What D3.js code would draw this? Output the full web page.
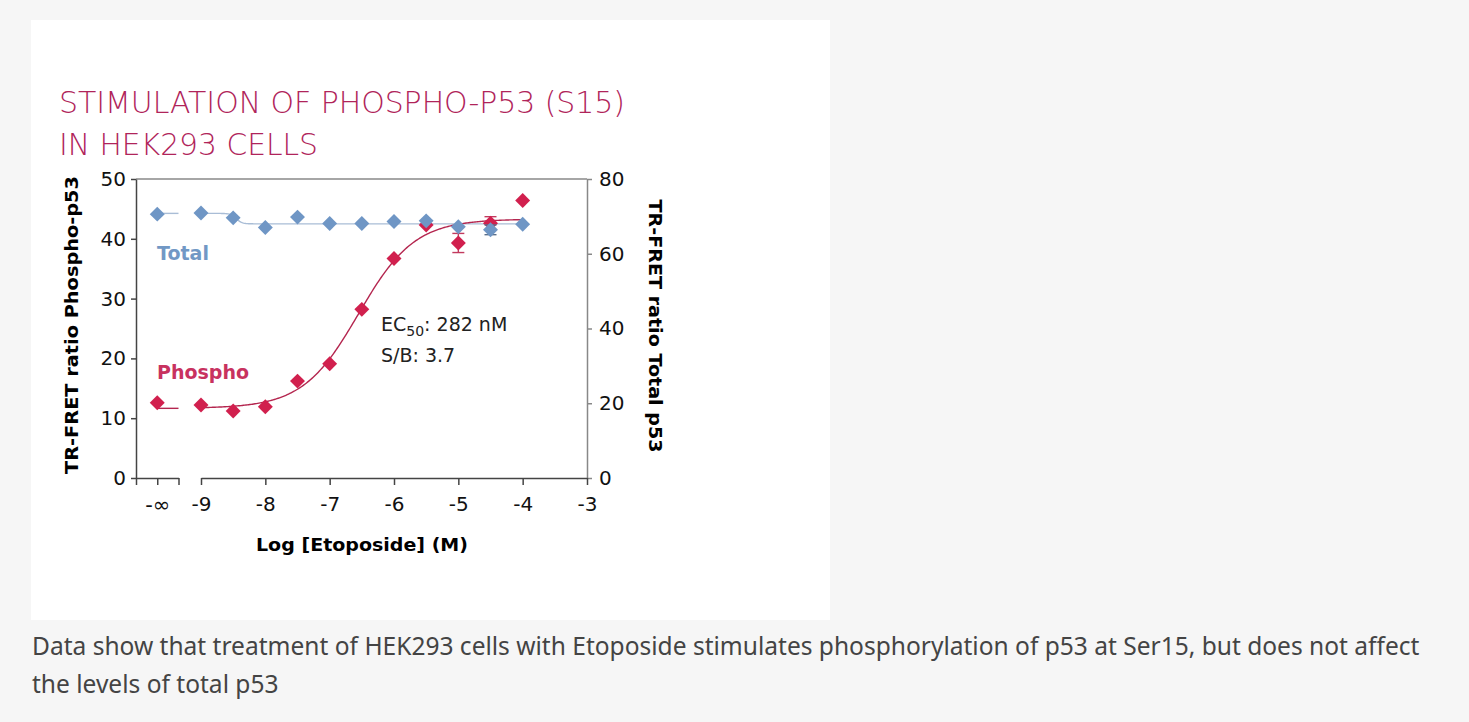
<!DOCTYPE html>
<html lang="en">
<head>
<meta charset="UTF-8">
<title>Stimulation of Phospho-p53 (S15) in HEK293 cells</title>
<style>
    body {
        margin: 0;
        background: #f6f6f6;
        font-family: "DejaVu Sans", sans-serif;
    }
    svg { display: block; }
    .tick text { font-family: "DejaVu Sans", sans-serif; font-size: 20px; fill: #111; }
</style>
<script src="https://d3js.org/d3.v7.min.js"></script>
</head>
<body>
<svg id="chart" width="1469" height="722"></svg>
<script>
// ---- data ----
const logConc = [null, -9, -8.5, -8, -7.5, -7, -6.5, -6, -5.5, -5, -4.5, -4]; // null = -inf (no drug)
const phospho = [12.6, 12.2, 11.2, 11.9, 16.2, 19.1, 28.2, 36.7, 42.3, 39.3, 42.6, 46.4];
const phosphoErr = [0, 0, 0, 0, 0, 0, 0, 0, 0, 1.6, 1.1, 0];
const total = [70.6, 70.9, 69.6, 67.0, 69.8, 68.1, 68.1, 68.6, 68.8, 67.2, 66.4, 67.9];
const totalErr = [0, 0, 0, 0, 0, 0, 0, 0, 0, 0, 1.3, 0];

const xTicks = [-9, -8, -7, -6, -5, -4, -3];
const leftTicks = [0, 10, 20, 30, 40, 50];
const rightTicks = [0, 20, 40, 60, 80];

// fitted sigmoid parameters (bottom, top, logEC50, hill)
const phosphoFit = {bottom: 11.65, top: 43.3, logEC50: -6.55, hill: 1};
const totalFit = {bottom: 68.0, top: 70.8, logEC50: -8.45, hill: -10};

const svg = d3.select("#chart");

// white panel
svg.append("rect").attr("x", 31).attr("y", 20).attr("width", 799).attr("height", 600).attr("fill", "#fff");

// title
const title = svg.append("g").attr("fill", "#b0245a")
    .style("font-family", "'DejaVu Sans', sans-serif").style("font-weight", 200).style("font-size", "30px");
title.append("text").attr("x", 59).attr("y", 113).text("STIMULATION OF PHOSPHO-P53 (S15)")
    .attr("textLength", 566).attr("lengthAdjust", "spacingAndGlyphs");
title.append("text").attr("x", 59).attr("y", 155).text("IN HEK293 CELLS")
    .attr("textLength", 259).attr("lengthAdjust", "spacingAndGlyphs");

// scales
const plotL = 136, plotR = 587, plotT = 179, plotB = 478;
const x = d3.scaleLinear().domain([-9, -3]).range([201, plotR]);
const xBreak = d3.scalePoint().domain(["a", "-\u221e", "b"]).range([plotL, 178.5]);
const xPos = v => v === null ? xBreak("-\u221e") : x(v);
const yL = d3.scaleLinear().domain([0, 50]).range([plotB, plotT]);
const yR = d3.scaleLinear().domain([0, 80]).range([plotB, plotT]);

// top frame line
svg.append("line").attr("x1", plotL).attr("x2", plotR).attr("y1", plotT).attr("y2", plotT)
    .attr("stroke", "#888").attr("stroke-width", 1.5);

// axes
const axL = svg.append("g").attr("transform", `translate(${plotL},0)`)
    .call(d3.axisLeft(yL).tickValues(leftTicks).tickSize(5).tickSizeOuter(0).tickPadding(5));
const axR = svg.append("g").attr("transform", `translate(${plotR},0)`)
    .call(d3.axisRight(yR).tickValues(rightTicks).tickSize(5).tickSizeOuter(0).tickPadding(7));
const axB = svg.append("g").attr("transform", `translate(0,${plotB})`)
    .call(d3.axisBottom(x).tickValues(xTicks).tickSize(7).tickSizeOuter(0).tickPadding(12));
const axB0 = svg.append("g").attr("transform", `translate(0,${plotB})`)
    .call(d3.axisBottom(xBreak).tickSize(7).tickSizeOuter(0).tickPadding(12)
        .tickFormat(d => d === "-\u221e" ? d : ""));
[axL, axB, axB0].forEach(a => a.selectAll("path, line").attr("stroke", "#444").attr("stroke-width", 1.5));
axR.selectAll("path, line").attr("stroke", "#888").attr("stroke-width", 1.5);
axB.selectAll(".tick text").text(d => d3.format("d")(d).replace("\u2212", "-"));
axB0.selectAll(".tick text").style("font-size", "21px");

// axis titles
const boldFont = "'DejaVu Sans', sans-serif";
svg.append("text").attr("x", 362).attr("y", 551).attr("text-anchor", "middle")
    .style("font-family", boldFont).style("font-weight", "bold").style("font-size", "18px").attr("fill", "#000")
    .attr("textLength", 212).attr("lengthAdjust", "spacingAndGlyphs")
    .text("Log [Etoposide] (M)");
svg.append("text").attr("transform", "translate(78,325) rotate(-90)").attr("text-anchor", "middle")
    .style("font-family", boldFont).style("font-weight", "bold").style("font-size", "18px").attr("fill", "#000")
    .attr("textLength", 298).attr("lengthAdjust", "spacingAndGlyphs")
    .text("TR-FRET ratio Phospho-p53");
svg.append("text").attr("transform", "translate(649,326) rotate(90)").attr("text-anchor", "middle")
    .style("font-family", boldFont).style("font-weight", "bold").style("font-size", "18px").attr("fill", "#000")
    .attr("textLength", 253).attr("lengthAdjust", "spacingAndGlyphs")
    .text("TR-FRET ratio Total p53");

// fitted curves
const hill = (p, lx) => p.bottom + (p.top - p.bottom) / (1 + Math.pow(10, (p.logEC50 - lx) * p.hill));
const grid = d3.range(-9, -3.999, 0.02);
const drawFit = (p, y, color) => {
    const line = d3.line().x(d => x(d)).y(d => y(hill(p, d)));
    svg.append("path").datum(grid).attr("d", line).attr("fill", "none")
        .attr("stroke", color).attr("stroke-width", 1.4);
    const base = p.hill > 0 ? p.bottom : p.top;
    svg.append("line").attr("x1", xBreak("-\u221e")).attr("x2", 178.5)
        .attr("y1", y(base)).attr("y2", y(base)).attr("stroke", color).attr("stroke-width", 1.4);
};
drawFit(totalFit, yR, "#a9bdd6");
drawFit(phosphoFit, yL, "#b4264f");

// points with error bars
const diamond = d3.symbol(d3.symbolSquare, 112);
const drawPoints = (vals, errs, y, color, errColor) => {
    const g = svg.append("g");
    vals.forEach((v, i) => {
        const cx = xPos(logConc[i]);
        if (errs[i] > 0) {
            const e = g.append("g").attr("stroke", errColor).attr("stroke-width", 1.4);
            e.append("line").attr("x1", cx).attr("x2", cx).attr("y1", y(v - errs[i])).attr("y2", y(v + errs[i]));
            [v - errs[i], v + errs[i]].forEach(w =>
                e.append("line").attr("x1", cx - 6).attr("x2", cx + 6).attr("y1", y(w)).attr("y2", y(w)));
        }
        g.append("path").attr("d", diamond)
            .attr("transform", `translate(${cx},${y(v)}) rotate(45)`)
            .attr("fill", color);
    });
};
drawPoints(phospho, phosphoErr, yL, "#d1204e", "#c23a5e");
drawPoints(total, totalErr, yR, "#6f96c5", "#5a6f8a");

// series labels
svg.append("text").attr("x", 157).attr("y", 260).attr("fill", "#7198c5")
    .style("font-family", boldFont).style("font-weight", 600).style("font-size", "19px").text("Total");
svg.append("text").attr("x", 157).attr("y", 379).attr("fill", "#c8325f")
    .style("font-family", boldFont).style("font-weight", 600).style("font-size", "19px").text("Phospho");

// EC50 annotation
const ec = svg.append("text").attr("x", 381).attr("y", 331).attr("fill", "#222")
    .style("font-family", boldFont).style("font-size", "19px");
ec.append("tspan").text("EC");
ec.append("tspan").attr("dy", 5).style("font-size", "14px").text("50");
ec.append("tspan").attr("dy", -5).text(": 282 nM");
svg.append("text").attr("x", 381).attr("y", 362).attr("fill", "#222")
    .style("font-family", boldFont).style("font-size", "19px").text("S/B: 3.7");

// caption
const cap = svg.append("g").attr("fill", "#444")
    .style("font-family", "'Noto Sans', sans-serif").style("font-size", "21px");
cap.append("text").attr("x", 32).attr("y", 655)
    .text("Data show that treatment of HEK293 cells with Etoposide stimulates phosphorylation of p53 at Ser15, but does not affect");
cap.append("text").attr("x", 32).attr("y", 693).text("the levels of total p53");
// fit caption font size to the reference line width
const w = cap.select("text").node().getComputedTextLength();
cap.style("font-size", (21 * 1388 / w).toFixed(2) + "px");
</script>
</body>
</html>
